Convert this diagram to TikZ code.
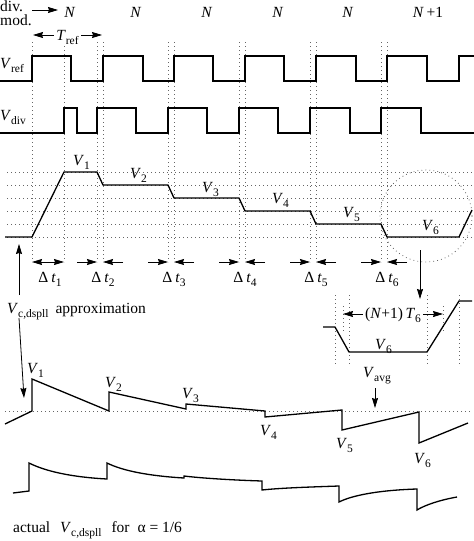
\documentclass[tikz,border=0pt]{standalone}
\usepackage{fontspec}
\setmainfont{Liberation Serif}
\usepackage{tikz}
\usetikzlibrary{arrows.meta}
\newcommand{\lo}[1]{\raisebox{-4.5pt}{\fontsize{11.5}{11.5}\selectfont #1}}
\newcommand{\sig}[2]{\textit{#1}\lo{#2}}
\tikzstyle{wave}=[line width=1.3pt]
\tikzstyle{grid}=[black!60, line width=0.8pt, dash pattern=on 0.8pt off 3.2pt]
\tikzstyle{edge}=[-{Stealth[length=10pt,width=6pt,inset=1pt]}, line width=0.8pt]
\tikzstyle{edgeB}=[{Stealth[length=10pt,width=6pt,inset=1pt]}-{Stealth[length=10pt,width=6pt,inset=1pt]}, line width=0.8pt]
\tikzstyle{txt}=[inner sep=0pt, font=\fontsize{15.5}{15.5}\selectfont]

\begin{document}
\begin{tikzpicture}[x=1pt, y=-1pt]
      \useasboundingbox (0,0) rectangle (474,541);
      % dotted guides
      \foreach \x in {32,64,97,103,168,174,239,245,310,316,381,387}
        \draw[grid] (\x,42) -- (\x,262);
      \foreach \y in {172,185,198,211,224,237}
        \draw[grid] (7,\y) -- (472,\y);
      \draw[grid] (426,216) circle[radius=46pt];
      \foreach \x in {335,349,427,459}
        \draw[grid] (\x,295) -- (\x,365);
      \foreach \x in {343,443}
        \draw[grid] (\x,306) -- (\x,333);
      \draw[grid] (5,411) -- (472,411);

      \node(dv) [txt, anchor=base west] at (0,11) {div.};
      \node(md) [txt, anchor=base west] at (0,25) {mod.};
      \coordinate (m0) at (32,10);
      \coordinate (m1) at (58,10);
      \draw[edge] (m0) -- (m1);
      \foreach \x/\n in {70/1,136/2,207/3,278/4,348/5}
        \node(n\n) [txt, anchor=base] at (\x,17) {\textit{N}};
      \node(n6) [txt, anchor=base] at (428,17) {\textit{N}\,+1};

      \coordinate (tl) at (33,35);
      \coordinate (tr) at (102,35);
      \draw[edgeB] (tl) -- (tr) node(tref) [txt, midway, anchor=base, yshift=-5pt, fill=white, inner xsep=2pt] {\sig{T}{ref}};

      \node(vr) [txt, anchor=base west] at (0,68) {\sig{V}{ref}};
      \node(vd) [txt, anchor=base west] at (0,120) {\sig{V}{div}};
      \draw[wave] (0,81) -| (32,56) -| (71,81) -| (103,56) -| (143,81) -| (174,56) -| (213,81)
        -| (245,56) -| (284,81) -| (316,56) -| (356,81) -| (387,56) -| (427,81) -| (459,56) -- (474,56);
      \draw[wave] (0,133) -| (64,108) -| (77,133) -| (97,108) -| (136,133) -| (168,108) -| (207,133)
        -| (239,108) -| (278,133) -| (310,108) -| (350,133) -| (381,108) -| (421,133) -- (474,133);

      % staircase
      \draw[wave] (5,237) -- (32,237) -- (64,172) -- (97,172) -- (103,185) -- (168,185) -- (174,198)
        -- (239,198) -- (245,211) -- (310,211) -- (316,224) -- (381,224) -- (387,237) -- (459,237) -- (472,210);
      \foreach \x/\y/\i in {73/165/1,130/178/2,202/192/3,272/203/4,343/217/5,422/230/6}
        \node(v\i) [txt, anchor=base west] at (\x,\y) {\sig{V}{\i}};

      \coordinate (d1a) at (32,262);
      \coordinate (d1b) at (64,262);
      \draw[edgeB] (d1a) -- (d1b);
      \node(dt1) [txt, anchor=base] at (50,282) {Δ\hspace{3pt}\textit{t}\lo{1}};
      \foreach \x/\i in {103/2,174/3,245/4,316/5,387/6} {
        \coordinate (g\i) at (\x,262);
        \draw[edge] ([xshift=-26pt]g\i) -- ([xshift=-6pt]g\i);
        \draw[edge] ([xshift=20pt]g\i) -- (g\i);
        \node(dt\i) [txt, anchor=base] at (\x,282) {Δ\hspace{3pt}\textit{t}\lo{\i}};
      }

      \coordinate (c0) at (19,295);
      \coordinate (c1) at (19,244);
      \draw[edge] (c0) -- (c1);
      \node(vc) [txt, anchor=base west] at (7,313) {\sig{V}{c,dspll}\hspace{7pt}approximation};
      \coordinate (c2) at (19,318);
      \coordinate (c3) at (24,398);
      \draw[edge] (c2) -- (c3);

      % zoom on V6
      \coordinate (z0) at (420,250);
      \coordinate (z1) at (420,299);
      \draw[edge] (z0) -- (z1);
      \coordinate (il) at (343,314);
      \coordinate (ir) at (443,314);
      \draw[edgeB] (il) -- (ir) node(tn) [txt, midway, anchor=base, yshift=-4pt, fill=white, inner xsep=2pt] {(\textit{N}+1)\,\sig{T}{6}};
      \draw[wave] (323,327) -- (335,327) -- (349,352) -- (427,352) -- (459,301) -- (472,301);
      \node(v6b) [txt, anchor=base west] at (375,349) {\sig{V}{6}};

      \node(va) [txt, anchor=base west] at (363,377) {\sig{V}{avg}};
      \coordinate (a0) at (375,388);
      \coordinate (a1) at (375,408);
      \draw[edge] (a0) -- (a1);

      % sawtooth
      \draw[wave] (5,424) -- (32,411) -- (32,379) -- (109,411) -- (109,392) -- (186,409) -- (186,404)
        -- (265,411) -- (265,417) -- (342,410) -- (342,430) -- (419,412) -- (419,443) -- (468,423);
      \foreach \x/\y/\i in {27/373/1,105/387/2,182/398/3,260/435/4,336/448/5,414/463/6}
        \node(s\i) [txt, anchor=base west] at (\x,\y) {\sig{V}{\i}};

      % actual
      \draw[wave] (13,493) -- (29,491) -- (29,463) .. controls (45,471) and (70,477) .. (107,479)
        -- (107,463) .. controls (123,471) and (150,476) .. (184,478)
        -- (184,476) .. controls (200,478) and (230,480) .. (262,481)
        -- (262,490) .. controls (280,488) and (310,487) .. (339,486)
        -- (339,502) .. controls (355,494) and (385,490) .. (417,489)
        -- (417,510) .. controls (425,505) and (440,500) .. (457,497);
      \node(act) [txt, anchor=base west] at (13,532) {actual\hspace{10pt}\sig{V}{c,dspll}\hspace{10pt}for\hspace{8pt}α = 1/6};
\end{tikzpicture}
\end{document}
